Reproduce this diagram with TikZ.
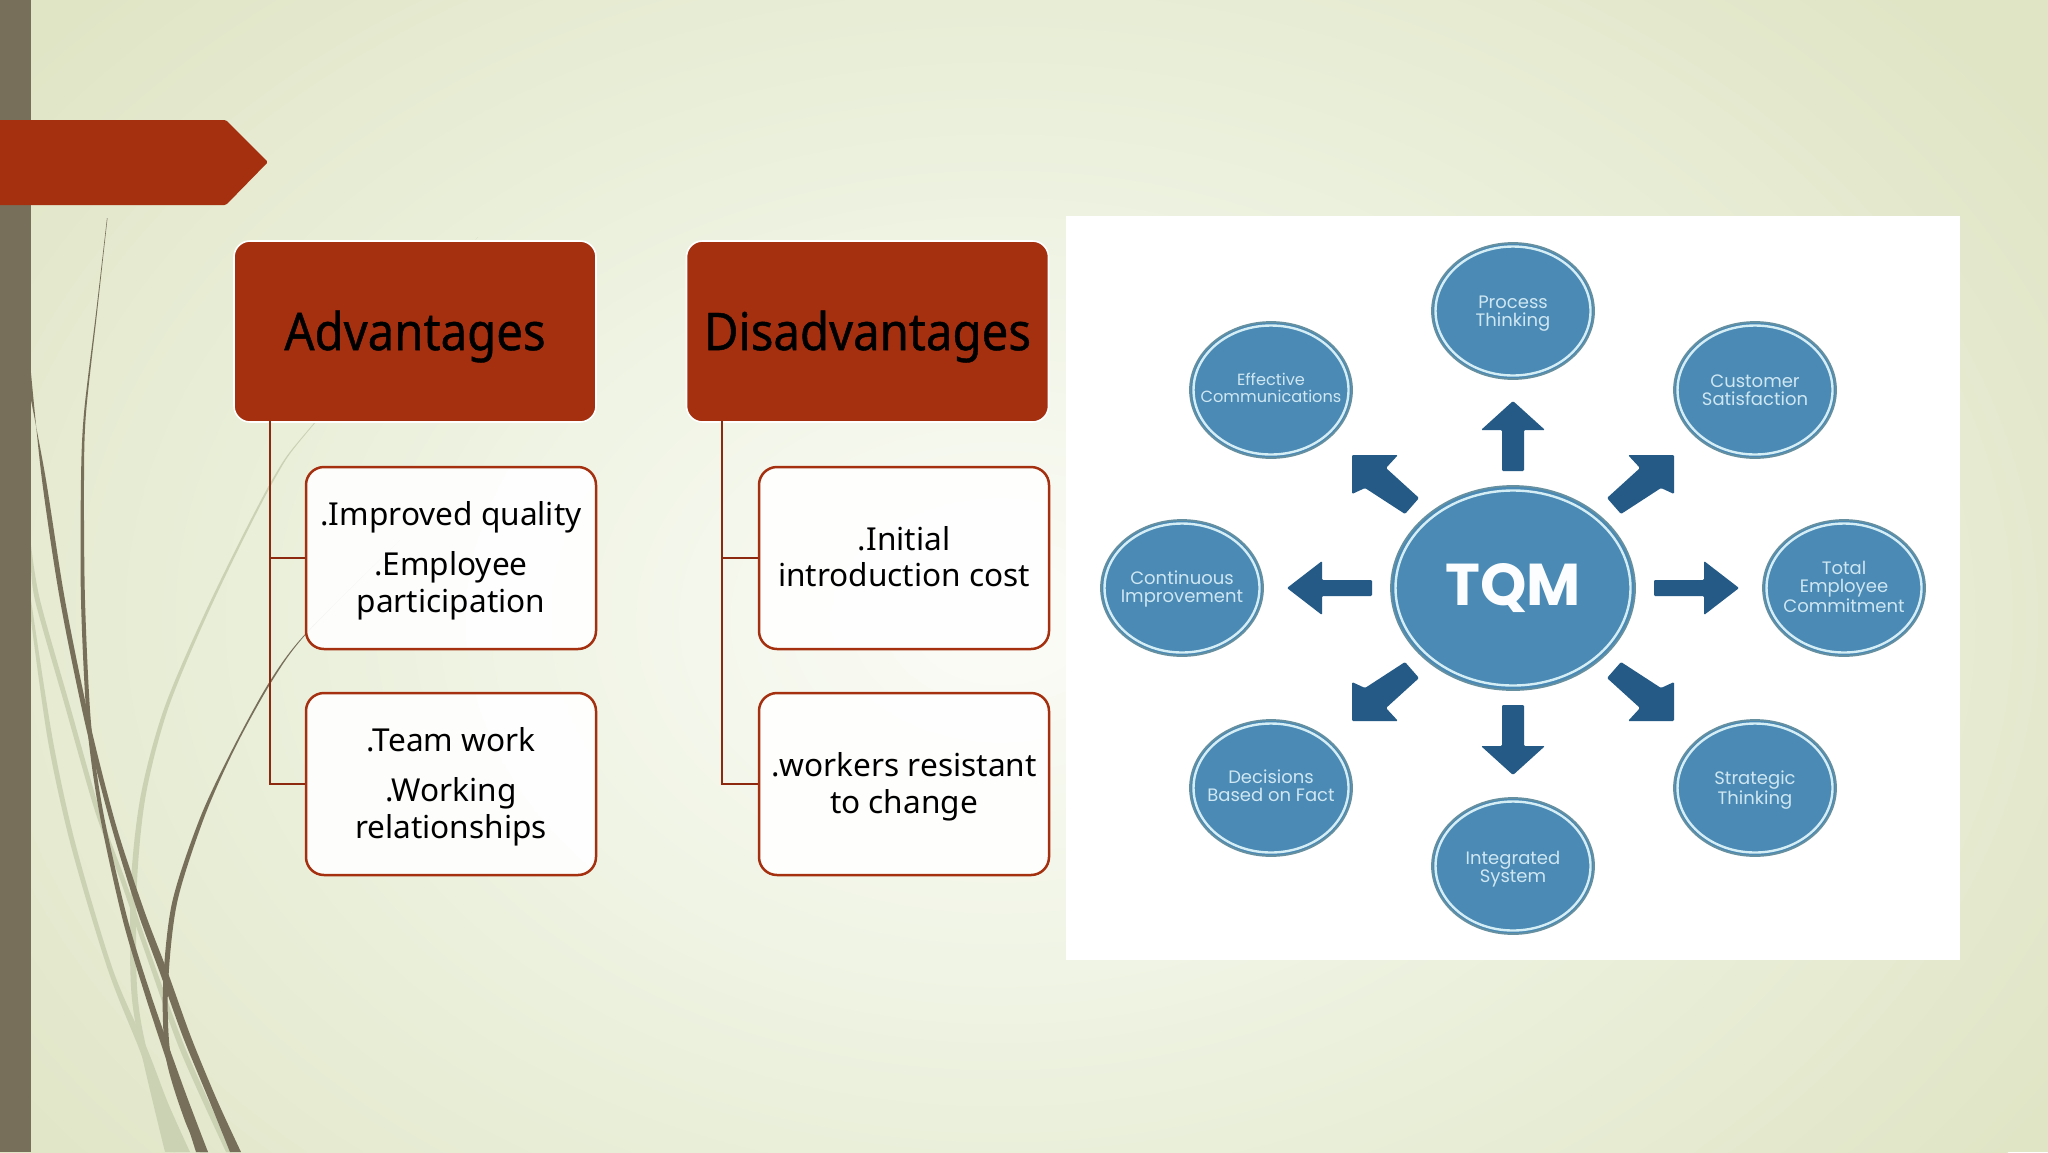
\documentclass[tikz,border=0pt]{standalone}
\usepackage{fontspec}
\usetikzlibrary{shapes.geometric}
\setmainfont{Noto Sans}
\newfontfamily\popfont{Poppins}
\definecolor{bgA}{HTML}{FBFCF7}
\definecolor{bgB}{HTML}{EDF2E0}
\definecolor{bgC}{HTML}{E0E5C6}
\definecolor{rust}{HTML}{A53010}
\definecolor{barc}{HTML}{786F5A}
\definecolor{stemlight}{HTML}{CBD1B3}
\definecolor{ballfill}{HTML}{4A8AB5}
\definecolor{ballringc}{HTML}{D5EDF5}
\definecolor{balledge}{HTML}{66909F}
\definecolor{balltext}{HTML}{CFE7F2}
\definecolor{arrowblue}{HTML}{245A85}
\pgfdeclareradialshading{bgsh}{\pgfpoint{0bp}{0bp}}{color(0bp)=(bgA); color(12bp)=(bgB); color(25bp)=(bgC); color(50bp)=(bgC)}
\tikzset{
 headbox/.style={rectangle,rounded corners=8pt,fill=rust,draw=white,line width=.8pt,minimum width=181pt,minimum height=90.5pt,inner sep=0pt,text height=24pt,text depth=5.4pt,font=\fontsize{26}{30}\selectfont\addfontfeature{FakeStretch=0.91,FakeBold=0.8},text=black},
 itembox/.style={rectangle,rounded corners=9pt,fill=white,fill opacity=.93,draw=rust,line width=1.25pt,minimum width=145pt,minimum height=91pt,inner sep=0pt},
 itemtext/.style={inner sep=0pt,align=center,fill opacity=1,text opacity=1,font=\fontsize{15.8}{18.25}\selectfont,text=black},
 link/.style={draw=rust!85!black,line width=1.4pt},
 ball/.style={ellipse,fill=ballfill,draw=balledge,line width=.9pt,minimum width=81pt,minimum height=68pt,inner sep=0pt},
 balltextstyle/.style={inner sep=0pt,align=center,text=balltext,font=\popfont\fontsize{9}{9}\selectfont},
 ballring/.style={ellipse,draw=ballringc,line width=1.2pt,inner sep=0pt,minimum width=#1},
 diagarrow/.pic={\fill[arrowblue,rounded corners=.6pt] (161,-133)--(161,-94)--(148,-100)--(108,-74)--(94,-90)--(127,-120)--(115,-133)--cycle;},
 uparrow/.pic={\fill[arrowblue,rounded corners=.6pt] (0,-187)--(32,-158)--(11,-158)--(11,-117)--(-11,-117)--(-11,-158)--(-32,-158)--cycle;},
 rightarrow/.pic={\fill[arrowblue,rounded corners=.6pt] (226,0)--(191,27)--(191,8)--(141,8)--(141,-8)--(191,-8)--(191,-27)--cycle;},
}
\begin{document}
\begin{tikzpicture}[x=.5pt,y=-.5pt]
\useasboundingbox (0,0) rectangle (2048,1152);
\fill[bgC] (0,0) rectangle (2048,1152);
\begin{scope}
\clip (0,0) rectangle (2048,1152);
\shade[shading=bgsh] (1000,620) ellipse [x radius=1250,y radius=900];
% light stems
\fill[stemlight] plot[smooth] coordinates {(31,560)(35,600)(65,706)(95,811)(121,882)(145,952)(180,1050)(226,1152)} -- plot[smooth] coordinates {(232,1152)(186,1050)(150,952)(126,882)(100,811)(70,706)(40,600)(31,545)} -- cycle;
\fill[stemlight] plot[smooth] coordinates {(31,620)(48,741)(71,846)(108,970)(140,1051)(158,1103)(174,1152)} -- plot[smooth] coordinates {(190,1152)(168,1103)(148,1051)(113,970)(76,846)(53,741)(31,600)} -- cycle;
\fill[stemlight] plot[smooth] coordinates {(478,237)(314,423)(272,480)(211,600)(165,706)(141,794)(131,882)(131,987)(141,1051)(165,1152)} -- plot[smooth] coordinates {(175,1152)(147,1051)(137,987)(137,882)(146,794)(169,706)(214,600)(274,480)(315,423)(478,237)} -- cycle;
% dark stems
\fill[barc] plot[smooth] coordinates {(107,218)(96,313)(84,413)(81,480)(81,600)(87,723)(99,811)(122,917)(146,998)(175,1086)(196,1152)} -- plot[smooth] coordinates {(208,1152)(183,1086)(152,998)(127,917)(103,811)(91,723)(85,600)(84,480)(86,413)(97,313)(107.5,218)} -- cycle;
\fill[barc] plot[smooth] coordinates {(31,373)(42,480)(60,600)(85,723)(111,825)(137,910)(160,973)(183,1037)(209,1100)(230,1152)} -- plot[smooth] coordinates {(241,1152)(217,1100)(191,1037)(168,973)(144,910)(116,825)(90,723)(65,600)(46,480)(31,400)} -- cycle;
\fill[barc] plot[smooth] coordinates {(400,540)(307,632)(270,681)(233,748)(200,818)(172,903)(163,987)(166,1058)(185,1121)(200,1152)} -- plot[smooth] coordinates {(208,1152)(190,1121)(171,1058)(168,987)(177,903)(204,818)(235,748)(272,681)(308,632)(400,540)} -- cycle;
\end{scope}
% left bar and banner
\fill[barc] (0,0) rectangle (31,1152);
\fill[rust,rounded corners=.8pt] (-5,120) -- (226,120) -- (268,162) -- (226,205) -- (-5,205) -- cycle;
% trunk coordinates
\coordinate (trunkA) at (270,421);
\coordinate (trunkB) at (722,421);
% item boxes
\node[headbox] (adv) at (415,331.5) {Advantages};
\node[headbox] (dis) at (867.5,331.5) {Disadvantages};
\node[itembox,label={[itemtext,yshift=-1.3pt]center:{.Improved quality\\[7pt].Employee\\participation}}] (a1) at (451,558) {};
\node[itembox,label={[itemtext,yshift=-1.3pt]center:{.Team work\\[7pt].Working\\relationships}}] (a2) at (451,784) {};
\node[itembox,label={[itemtext,yshift=.6pt]center:{.Initial\\introduction cost}}] (d1) at (904,558) {};
\node[itembox,label={[itemtext,yshift=-1.3pt]center:{.workers resistant\\to change}}] (d2) at (904,784) {};
\draw[link] (trunkA) |- (a1.west);
\draw[link] (trunkA) |- (a2.west);
\draw[link] (trunkB) |- (d1.west);
\draw[link] (trunkB) |- (d2.west);
% picture panel
\fill[white] (1066,216) rectangle (1960,960);
% block arrows
\begin{scope}[shift={(1513,588)}]
\pic {diagarrow};
\pic[xscale=-1] {diagarrow};
\pic[yscale=-1] {diagarrow};
\pic[xscale=-1,yscale=-1] {diagarrow};
\pic {uparrow};
\pic[yscale=-1] {uparrow};
\pic {rightarrow};
\pic[xscale=-1] {rightarrow};
\end{scope}
% TQM and outer circles
\node[ball,minimum width=122pt,minimum height=102pt,font=\popfont\bfseries\fontsize{29.5}{30}\selectfont,text=white!92!ballringc] (tqm) at (1513,588) {TQM};
\node[ballring=117.5pt,minimum height=97.5pt] (tqmring) at (tqm.center) {};
\foreach \n/\px/\py/\d/\t in {pt/1513/311/-1.3/{Process\\Thinking},cs/1755/390/0/{Customer\\Satisfaction},te/1844/588/.6/{Total\\Employee\\Commitment},st/1755/788/-1/{Strategic\\Thinking},is/1513/866/-1.6/{Integrated\\System},db/1271/788/1.3/{Decisions\\Based on Fact},ci/1182/588/-.6/{Continuous\\Improvement},ec/1271/390/1/{\fontsize{8.1}{8}\selectfont Effective\\[-.5pt]\fontsize{8.1}{8}\selectfont Communications}}{
 \node[ball] (\n) at (\px,\py) {};
 \node[ballring=77.5pt,minimum height=64.5pt,label={[balltextstyle,yshift=\d pt]center:{\t}}] (\n ring) at (\n.center) {};
}
\end{tikzpicture}
\end{document}
